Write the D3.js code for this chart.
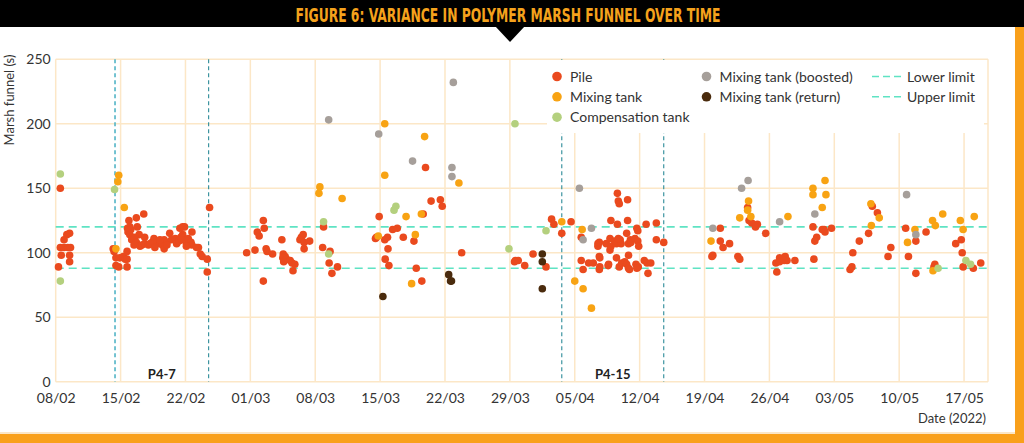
<!DOCTYPE html>
<html><head><meta charset="utf-8">
<script src="https://cdn.jsdelivr.net/npm/d3@7"></script>
<style>
html,body{margin:0;padding:0;background:#fff;}
svg{display:block;}
</style></head>
<body>
<svg id="chart" width="1024" height="443"></svg>
<script>
// ---- data: [days since 08/02/2022, Marsh funnel seconds] ----
const startDate = "2022-02-08";
const endDate = "2022-05-19T14:00";
const xTickDays = [0, 7, 14, 21, 28, 35, 42, 49, 56, 63, 70, 77, 84, 91, 98];
const pile = [
[0.5,150],[1.2,114],[1.5,115],[0.9,110],[0.5,104],[0.9,104],[1.3,104],[1.6,104],[0.6,98],[1.5,98],[1.5,93],[0.3,89],
[6.3,101],[6.2,103],[6.5,96],[6.9,96],[7.3,97],[7.5,95],[7.7,95],[7.7,101],[6.5,90],[6.8,89],[7.7,89],
[7.9,125],[8.7,127],[9.5,130],[7.75,119],[8.0,120],[8.1,118],[7.8,116],[8.8,120],[8.0,114],[9.0,114],[8.55,112],[8.2,110],[8.7,108],[9.6,112],[8.45,106],[9.1,105],
[9.3,106],[9.6,107],[10.0,106],[10.4,108],[10.6,111],[10.9,107],[11.25,108],[11.5,106],[11.7,110],[12.0,108],[12.3,115],[12.5,110],[12.9,111],[13.05,107],[13.3,109],[13.5,112],[13.7,114],[13.9,110],[14.1,107],[14.3,111],[14.6,108],[14.7,106],[13.7,120],[13.9,120],[13.4,119],[14.7,116],[15.4,104],[15.6,99],[15.8,97],[16.35,95],[16.35,85],[16.6,135],
[10.2,107],[10.7,104],[11.7,103],[12.0,106],[13.6,110],[14.1,105],[15.2,104],[11.25,110],
[22.4,125],[22.5,119],[21.75,116],[21.95,113],[20.6,100],[21.5,102],[22.7,103],[22.8,101],[23.4,99],[24.4,110],[22.4,78],[24.55,99],[24.75,97],[24.5,96],[24.9,95],[24.6,93],[25.3,94],[25.5,92],[25.8,91],[25.6,86],[26.5,112],[26.7,114],[26.35,110],[26.8,108],[27.4,109],[26.8,103],[28.9,120],[28.8,104],[29.6,101],[29.5,92],[30.4,89],[29.8,84],
[34.9,128],[36.35,118],[36.85,119],[34.6,112],[34.5,111],[35.8,112],[35.5,110],[37.5,112],[35.85,103],[35.55,95],[35.95,90],[38.9,88],[39.5,78],[38.65,109],[39.65,130],[39.9,166],[40.5,140],[41.5,141],[41.7,136],[43.8,100],
[49.6,94],[49.9,94],[49.5,93],[50.6,90],[51.5,99],[52.9,89],[53.5,126],[53.75,122],[55.6,124],[54.6,115],[56.7,112],[56.7,94],[56.9,87],[57.5,92],[58.0,92],[58.65,97],[58.7,89],[58.65,87],[59.65,91],[58.5,107],[58.5,105],
[60.6,146],[60.7,140],[60.8,138],[61.7,141],[59.9,125],[60.6,122],[61.7,125],[63.7,122],[64.8,123],[62.7,119],[62.8,117],[58.65,108],[59.4,107],[59.8,111],[59.9,105],[59.8,102],[60.3,109],[60.5,107],[60.9,110],[61.0,107],[60.7,111],[61.6,115],[62.0,110],[61.8,107],[62.05,108],[62.5,111],[62.8,109],[62.9,105],[61.8,98],[64.8,110],[65.6,108],
[58.7,96],[59.6,90],[60.5,96],[60.8,89],[61.06,92],[61.4,93],[61.6,91],[61.8,88],[61.9,87],[62.6,91],[62.85,89],[62.7,88],[63.5,94],[63.8,92],[64.2,92],[63.9,84],
[71.7,119],[71.7,109],[72.7,107],[72.0,104],[70.9,98],[70.8,97],[73.6,97],[73.8,95],[74.65,135],[74.8,125],[75.1,123],[75.7,122],[75.5,120],[76.6,115],[77.8,85],[77.7,92],[78.1,96],[78.7,97],[78.1,93],[78.9,94],[79.75,94],[78.6,94],
[81.7,120],[82.7,118],[82.9,118],[83.0,116],[83.7,119],[82.1,112],[81.9,109],[81.8,95],
[88.1,136],[88.65,131],[87.7,115],[86.7,109],[86.0,100],[85.7,87],[85.9,89],[90.1,104],[89.8,97],
[91.7,119],[92.8,109],[92.0,97],[92.8,84],[93.9,116],[94.85,91],[94.75,89],[97.1,107],[97.7,110],[97.8,100],[97.9,89],[99.0,88],[99.8,92]
];
const mixingTank = [
[6.8,160],[6.7,155],[7.4,135],[6.5,103],
[28.5,151],[28.4,146],[30.9,142],
[35.5,200],[35.5,160],[37.8,128],[34.8,113],[38.4,76],[38.8,114],[39.45,130],[39.8,190],[43.5,154],
[54.6,124],[56.8,118],[56.0,78],[56.9,72],[57.8,57],
[70.7,109],[73.8,127],[74.75,140],[74.65,133],[75.0,128],[79.0,128],
[81.7,150],[81.7,145],[83.0,156],[83.1,145],[82.7,135],
[87.95,138],[88.0,121],[88.85,127],
[92.7,118],[91.9,108],[94.6,125],[94.9,121],[95.7,130],[94.65,86],
[97.6,125],[97.9,118],[99.1,128]
];
const compensationTank = [[0.5,161],[0.5,78],[6.35,149],[28.9,124],[29.45,99],[36.7,136],[36.5,133],[49.55,200],[48.9,103],[52.9,117],[95.2,88],[98.2,94],[98.7,91]];
const mixingBoosted = [[29.45,203],[34.85,192],[38.5,171],[42.75,166],[42.75,159],[42.9,232],[56.5,150],[57.8,119],[56.9,110],[70.9,119],[74.0,150],[74.7,156],[78.1,124],[81.9,130],[91.8,145],[92.8,114]];
const mixingReturn = [[35.3,66],[42.4,83],[42.6,78],[42.7,78],[52.5,99],[52.5,93],[52.5,72]];
const lowerLimit = 88;
const upperLimit = 120;
const phaseLabels = ["P4-7", "P4-15"];
const phaseStart = [6.4, 54.6];
const phaseEnd = [16.5, 65.6];
const yTicks = [0, 50, 100, 150, 200, 250];
const seriesNames = ["Pile", "Mixing tank", "Compensation tank", "Mixing tank (boosted)", "Mixing tank (return)"];
const seriesColors = ["#EA4A1E", "#F8A313", "#B4D07E", "#A69F9A", "#4A2B0D"];
const seriesData = [pile, mixingTank, compensationTank, mixingBoosted, mixingReturn];

// ---- drawing ----
const svg = d3.select("#chart");
const W = 1024, H = 443;
const m = {left: 55.7, right: 988, top: 59.2, bottom: 381.7};
const t0 = d3.isoParse(startDate + "T00:00");
const toDate = d => new Date(t0.getTime() + d * 864e5);
const x = d3.scaleTime().domain([t0, d3.isoParse(endDate)]).range([m.left, m.right]);
const y = d3.scaleLinear().domain([0, 250]).range([m.bottom, m.top]);
const font = "Lato, 'Open Sans', sans-serif";
const grid = "#FCE7C7";

// frame decorations
svg.append("rect").attr("x", 0).attr("y", 0).attr("width", W).attr("height", 27).attr("fill", "#000");
svg.append("path").attr("d", "M495,26 L525,26 L510,42 Z").attr("fill", "#000");
svg.append("text").attr("x", 508).attr("y", 21.5).attr("text-anchor", "middle")
  .attr("font-family", "'DejaVu Sans Condensed', 'Liberation Sans Narrow', sans-serif")
  .attr("font-weight", "bold").attr("font-size", 19).attr("fill", "#F5A21C")
  .attr("textLength", 425).attr("lengthAdjust", "spacingAndGlyphs")
  .text("FIGURE 6: VARIANCE IN POLYMER MARSH FUNNEL OVER TIME");
svg.append("rect").attr("x", 1015).attr("y", 27).attr("width", 9).attr("height", H - 27).attr("fill", "#F9A01B");
svg.append("rect").attr("x", 0).attr("y", 432).attr("width", 1015).attr("height", 2).attr("fill", "#FBE6C6");
svg.append("rect").attr("x", 0).attr("y", 434).attr("width", W).attr("height", 9).attr("fill", "#F9A01B");

// grid
const xTicks = xTickDays.map(toDate);
const g = svg.append("g");
g.selectAll(".hg").data(yTicks).join("line")
  .attr("x1", m.left).attr("x2", m.right).attr("y1", d => y(d)).attr("y2", d => y(d))
  .attr("stroke", grid).attr("stroke-width", 1.5);
g.selectAll(".vg").data(xTicks.concat([d3.isoParse(endDate)])).join("line")
  .attr("x1", d => x(d)).attr("x2", d => x(d)).attr("y1", m.top).attr("y2", m.bottom)
  .attr("stroke", grid).attr("stroke-width", 1.5);

// axes (labels only)
const yAxis = d3.axisLeft(y).tickValues(yTicks).tickSize(0).tickPadding(5);
const ya = svg.append("g").attr("transform", `translate(${m.left},0)`).call(yAxis);
ya.select(".domain").remove();
ya.selectAll("text").attr("font-family", font).attr("font-size", 14).attr("fill", "#333");
const xAxis = d3.axisBottom(x).tickValues(xTicks).tickFormat(d3.timeFormat("%d/%m")).tickSize(0).tickPadding(11);
const xa = svg.append("g").attr("transform", `translate(0,${m.bottom})`).call(xAxis);
xa.select(".domain").remove();
xa.selectAll("text").attr("font-family", font).attr("font-size", 14).attr("fill", "#333");

svg.append("text").attr("transform", `translate(14,100) rotate(-90)`).attr("text-anchor", "middle")
  .attr("font-family", font).attr("font-size", 13).attr("fill", "#333").text("Marsh funnel (s)");
svg.append("text").attr("x", 986).attr("y", 423).attr("text-anchor", "end")
  .attr("font-family", font).attr("font-size", 13).attr("fill", "#333").text("Date (2022)");

// limit lines
[lowerLimit, upperLimit].forEach(v => {
  svg.append("line").attr("x1", m.left).attr("x2", m.right).attr("y1", y(v)).attr("y2", y(v))
    .attr("stroke", "#5FE3C3").attr("stroke-width", 1.6).attr("stroke-dasharray", "8,5");
});

// phase lines
phaseStart.forEach((s, i) => {
  [s, phaseEnd[i]].forEach((d, j) => {
    const light = (i === 0 && j === 0);
    svg.append("line").attr("x1", x(toDate(d))).attr("x2", x(toDate(d))).attr("y1", m.top).attr("y2", m.bottom)
      .attr("stroke", light ? "#52B4C6" : "#2C8B98").attr("stroke-width", light ? 1.6 : 1.1)
      .attr("stroke-dasharray", "4,3");
  });
  svg.append("text").attr("x", x(toDate((s + phaseEnd[i]) / 2))).attr("y", 379)
    .attr("text-anchor", "middle").attr("font-family", font).attr("font-weight", "bold")
    .attr("font-size", 13).attr("fill", "#222").text(phaseLabels[i]);
});

// points
seriesData.forEach((arr, i) => {
  svg.append("g").selectAll("circle").data(arr).join("circle")
    .attr("cx", d => x(toDate(d[0]))).attr("cy", d => y(d[1])).attr("r", 3.8)
    .attr("fill", seriesColors[i]);
});

// legend
const lg = svg.append("g");
lg.append("rect").attr("x", 547).attr("y", 60).attr("width", 437).attr("height", 73).attr("fill", "#fff");
const legPos = [[557, 76.5], [557, 96.8], [557, 117.2], [706.5, 76.5], [706.5, 96.8]];
seriesNames.forEach((n, i) => {
  lg.append("circle").attr("cx", legPos[i][0]).attr("cy", legPos[i][1]).attr("r", 4.8).attr("fill", seriesColors[i]);
  lg.append("text").attr("x", legPos[i][0] + 13).attr("y", legPos[i][1] + 5)
    .attr("font-family", font).attr("font-size", 14).attr("fill", "#333").text(n);
});
["Lower limit", "Upper limit"].forEach((n, i) => {
  const yy = [76.5, 96.8][i];
  lg.append("line").attr("x1", 872).attr("x2", 902).attr("y1", yy).attr("y2", yy)
    .attr("stroke", "#5FE3C3").attr("stroke-width", 1.6).attr("stroke-dasharray", "7,4");
  lg.append("text").attr("x", 907).attr("y", yy + 5)
    .attr("font-family", font).attr("font-size", 14).attr("fill", "#333").text(n);
});
</script>
</body></html>
